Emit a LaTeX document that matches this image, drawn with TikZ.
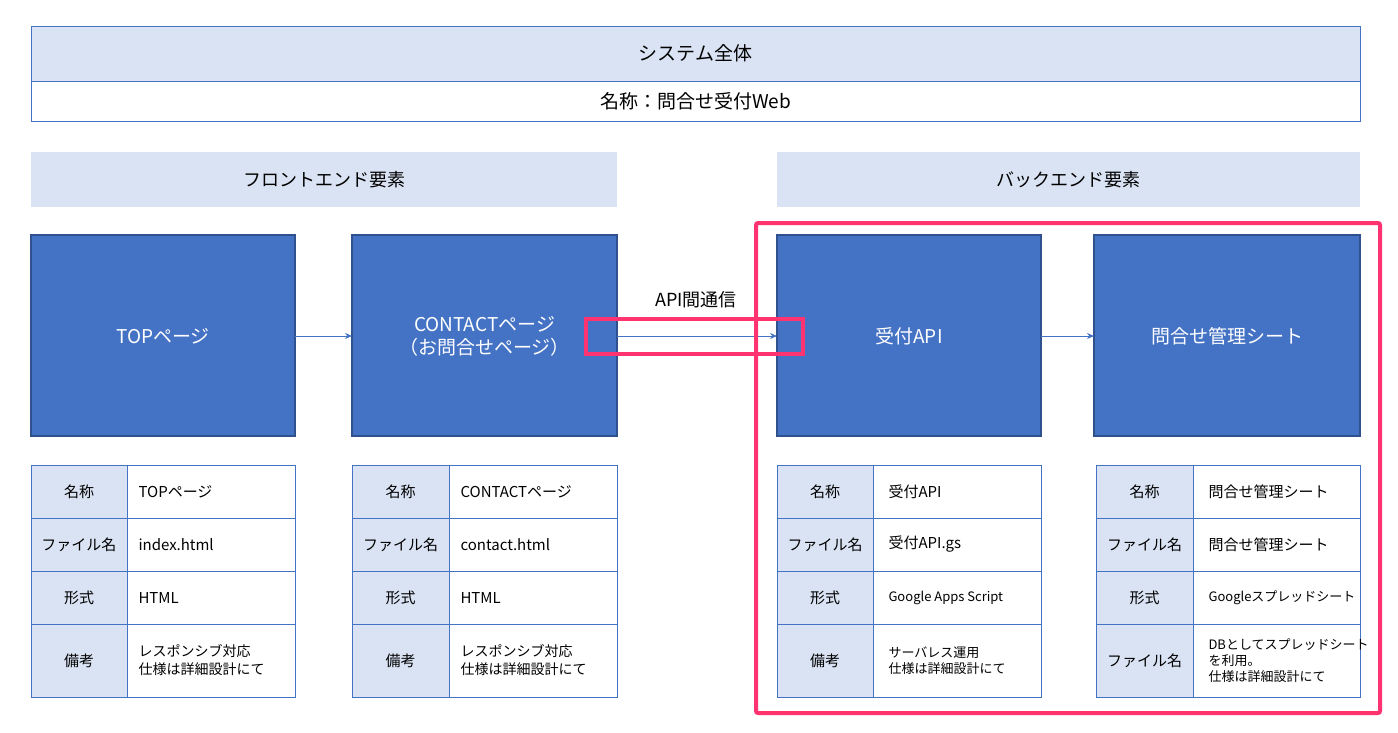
\documentclass[tikz,border=0pt]{standalone}
\usepackage{fontspec}
\usetikzlibrary{arrows.meta}
\setmainfont{Noto Sans CJK JP}
\definecolor{lb}{HTML}{DAE3F3}
\definecolor{bl}{HTML}{4472C4}
\definecolor{dbl}{HTML}{2F528F}
\definecolor{rd}{HTML}{FF3370}
\begin{document}
\begin{tikzpicture}[x=1pt,y=-1pt,
 big/.style={fill=bl,draw=dbl,line width=1.2pt},
 bt/.style={text=white,font=\fontsize{19}{23}\selectfont,align=center},
 cell/.style={draw=bl,line width=1pt},
 ct/.style={font=\fontsize{15}{19}\selectfont,align=left,anchor=west},
 cts/.style={font=\fontsize{13}{16}\selectfont,align=left,anchor=west},
 arr/.style={draw=bl,-{Stealth[length=7pt,width=6pt]},line width=0.8pt}]
\useasboundingbox (0,0) rectangle (1398,732);
% top
\draw[cell,fill=lb] (31,26) rectangle (1360,81);
\draw[cell,fill=white] (31,81) rectangle (1360,121);
\node[font=\fontsize{19}{23}\selectfont] (sys) at (695.5,53.5) {システム全体};
\node[font=\fontsize{19}{23}\selectfont] (nm) at (695.5,101) {名称：問合せ受付Web};
% headers
\fill[lb] (31,152) rectangle (617,207);
\node[font=\fontsize{18}{22}\selectfont] (fh) at (324,180) {フロントエンド要素};
\fill[lb] (777,152) rectangle (1360,207);
\node[font=\fontsize{18}{22}\selectfont] (bh) at (1068.5,180) {バックエンド要素};
% big boxes
\draw[big] (31,235) rectangle (295,436);
\node[bt] (top) at (163,336) {TOPページ};
\draw[big] (352,235) rectangle (617,436);
\node[bt] (con) at (484.5,336) {CONTACTページ\\（お問合せページ）};
\draw[big] (777,235) rectangle (1041,436);
\node[bt] (api) at (909,336) {受付API};
\draw[big] (1094,235) rectangle (1360,436);
\node[bt] (sh) at (1227,336) {問合せ管理シート};
\coordinate (a1) at (295,336); \coordinate (a2) at (352,336);
\coordinate (b1) at (617,336); \coordinate (b2) at (777,336);
\coordinate (c1) at (1041,336); \coordinate (c2) at (1094,336);
\draw[arr] (a1) -- (a2);
\draw[arr] (b1) -- (b2);
\draw[arr] (c1) -- (c2);
\node[font=\fontsize{18}{22}\selectfont] (ac) at (696,300) {API間通信};
% red
\draw[rd,line width=4pt,rounded corners=2pt] (756,223) rectangle (1380,713);
\draw[rd,line width=4pt] (586,319) rectangle (803,354);
% tables
\foreach \x/\m/\r/\t/\f/\k/\n/\s in {
 31/127/295/TOPページ/index.html/HTML/備考/{レスポンシブ対応\\仕様は詳細設計にて},
 352/449/617/CONTACTページ/contact.html/HTML/備考/{レスポンシブ対応\\仕様は詳細設計にて}}{
 \foreach \ya/\yb in {465/518,518/571,571/624,624/697}{
  \draw[cell,fill=lb] (\x,\ya) rectangle (\m,\yb);
  \draw[cell,fill=white] (\m,\ya) rectangle (\r,\yb);}
 \node[ct,anchor=center] at ({(\x+\m)/2},491.5) {名称};
 \node[ct,anchor=center] at ({(\x+\m)/2},544.5) {ファイル名};
 \node[ct,anchor=center] at ({(\x+\m)/2},597.5) {形式};
 \node[ct,anchor=center] at ({(\x+\m)/2},660.5) {\n};
 \node[ct] at (\m+8,491.5) {\t};
 \node[ct] at (\m+8,544.5) {\f};
 \node[ct] at (\m+8,597.5) {\k};
 \node[ct,font=\fontsize{14}{18}\selectfont] at (\m+8,660.5) {\s};
}
\foreach \x/\m/\r/\t/\f/\k/\n/\s in {
 777/873/1041/受付API/受付API.gs/Google Apps Script/備考/{サーバレス運用\\仕様は詳細設計にて},
 1096/1193/1360/問合せ管理シート/問合せ管理シート/Googleスプレッドシート/ファイル名/{DBとしてスプレッドシート\\を利用。\\仕様は詳細設計にて}}{
 \foreach \ya/\yb in {465/518,518/571,571/624,624/697}{
  \draw[cell,fill=lb] (\x,\ya) rectangle (\m,\yb);
  \draw[cell,fill=white] (\m,\ya) rectangle (\r,\yb);}
 \node[ct,anchor=center] at ({(\x+\m)/2},491.5) {名称};
 \node[ct,anchor=center] at ({(\x+\m)/2},544.5) {ファイル名};
 \node[ct,anchor=center] at ({(\x+\m)/2},597.5) {形式};
 \node[ct,anchor=center] at ({(\x+\m)/2},660.5) {\n};
 \node[ct] at (\m+12,491.5) {\t};
 \node[ct] at (\m+12,544.5) {\f};
 \node[cts] at (\m+12,597.5) {\k};
 \node[cts] at (\m+12,660.5) {\s};
}
\end{tikzpicture}
\end{document}
